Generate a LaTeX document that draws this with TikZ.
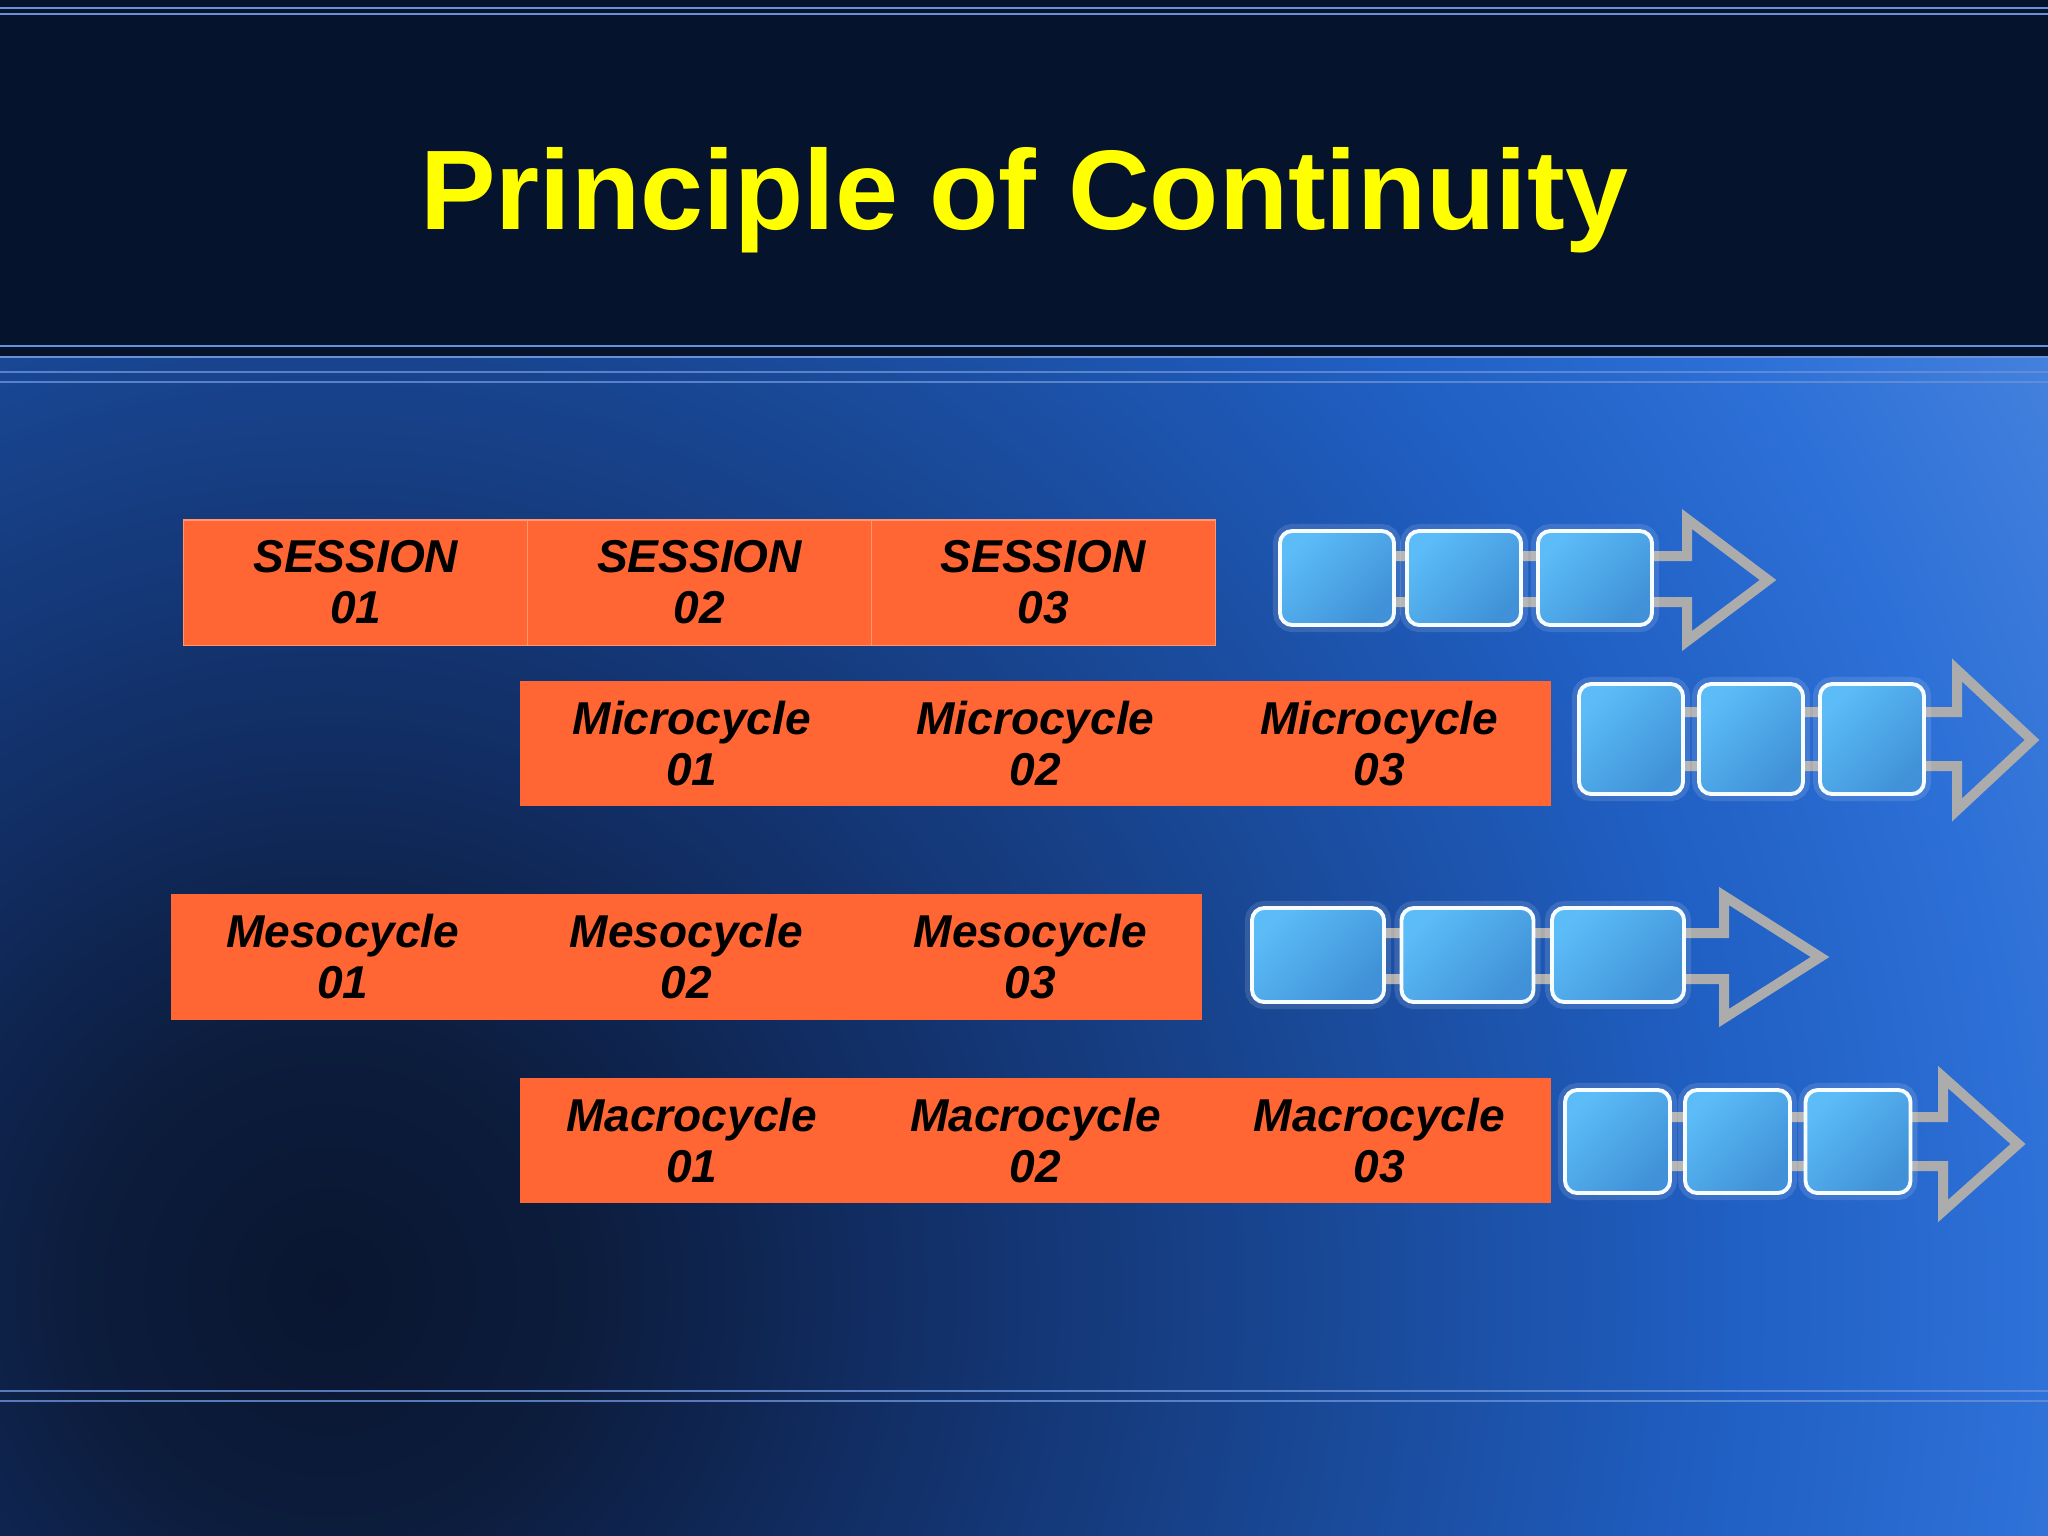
\documentclass[tikz,border=0pt]{standalone}
\usepackage{fontspec}
\setmainfont{Liberation Sans}
\definecolor{hdr}{RGB}{6,19,45}
\definecolor{bgA}{RGB}{10,22,48}
\definecolor{bgB}{RGB}{12,28,60}
\definecolor{bgC}{RGB}{18,48,105}
\definecolor{bgD}{RGB}{25,72,150}
\definecolor{bgE}{RGB}{32,95,195}
\definecolor{bgF}{RGB}{45,112,215}
\definecolor{bgG}{RGB}{72,132,222}
\definecolor{lineblue}{RGB}{105,145,215}
\definecolor{orng}{RGB}{255,102,51}
\definecolor{orngL}{RGB}{255,150,110}
\definecolor{sqTop}{RGB}{92,188,248}
\definecolor{sqBot}{RGB}{64,145,215}
\definecolor{arrgray}{RGB}{172,172,172}
\definecolor{ttl}{RGB}{255,255,0}
\pgfdeclareradialshading{bodyshade}{\pgfpoint{0bp}{0bp}}{color(0bp)=(bgA); color(3.1bp)=(bgB); color(7.5bp)=(bgC); color(12.5bp)=(bgD); color(17.5bp)=(bgE); color(21.25bp)=(bgF); color(25bp)=(bgG); color(50bp)=(bgG)}
\newcommand\cellfont{\fontsize{13.1pt}{14.5pt}\selectfont\bfseries\itshape}
\newcommand\ttlfont{\fontsize{32.2pt}{38pt}\selectfont\bfseries}
\begin{document}
\begin{tikzpicture}[x=0.01cm,y=-0.01cm,
  hline/.style={draw=lineblue, line width=0.7pt},
  cell/.style={rectangle, fill=orng, minimum width=3.437cm, minimum height=1.25cm, inner sep=0pt, align=center, font=\cellfont, text=black},
  celledge/.style={cell, draw=orngL, line width=0.3pt},
  sq/.style={rectangle, rounded corners=3.5pt, draw=white!95!sqTop, line width=1.1pt, top color=sqTop, bottom color=sqBot, shading angle=45, inner sep=0pt,
     preaction={draw=white, draw opacity=0.12, line width=4pt}},
  arr/.style={draw=arrgray, line width=2.85pt, line join=miter}
]
\useasboundingbox (0,0) rectangle (2048,1535);
% background
\fill[hdr] (0,0) rectangle (2048,357);
\begin{scope}
  \clip (0,357) rectangle (2048,1535);
  \shade[shading=bodyshade] (-1670,-710) rectangle (2330,3290);
\end{scope}
\foreach \yy in {8,14,346,357} \draw[hline] (0,\yy) -- (2048,\yy);
\foreach \yy in {372,382,1391,1401} \draw[hline, draw opacity=0.8] (0,\yy) -- (2048,\yy);
% title
\node[anchor=base, text=ttl, font=\ttlfont, inner sep=0pt] (title) at (1024,229) {Principle of Continuity};
% row 1
\node[celledge] (r1a) at (355.8,582.5) {SESSION\\01};
\node[celledge] (r1b) at (699.5,582.5) {SESSION\\02};
\node[celledge] (r1c) at (1043.2,582.5) {SESSION\\03};
% row 2
\node[cell] (r2a) at (691.8,743.5) {Microcycle\\01};
\node[cell] (r2b) at (1035.5,743.5) {Microcycle\\02};
\node[cell] (r2c) at (1379.2,743.5) {Microcycle\\03};
% row 3
\node[cell] (r3a) at (342.8,957) {Mesocycle\\01};
\node[cell] (r3b) at (686.5,957) {Mesocycle\\02};
\node[cell] (r3c) at (1030.2,957) {Mesocycle\\03};
% row 4
\node[cell] (r4a) at (691.8,1140.5) {Macrocycle\\01};
\node[cell] (r4b) at (1035.5,1140.5) {Macrocycle\\02};
\node[cell] (r4c) at (1379.2,1140.5) {Macrocycle\\03};
% chain 1
\draw[arr] (1337,556) -- (1687,556) -- (1687,519) -- (1768,580) -- (1687,641) -- (1687,602) -- (1337,602);
\node[sq, minimum width=1.14cm, minimum height=0.94cm] (c1a) at (1337,578) {};
\node[sq, minimum width=1.14cm, minimum height=0.94cm] (c1b) at (1464,578) {};
\node[sq, minimum width=1.14cm, minimum height=0.94cm] (c1c) at (1595,578) {};
% chain 2
\draw[arr] (1631,712) -- (1957,712) -- (1957,670) -- (2032,740) -- (1957,810) -- (1957,766) -- (1631,766);
\node[sq, minimum width=1.04cm, minimum height=1.1cm] (c2a) at (1631,739) {};
\node[sq, minimum width=1.04cm, minimum height=1.1cm] (c2b) at (1751,739) {};
\node[sq, minimum width=1.04cm, minimum height=1.1cm] (c2c) at (1872,739) {};
% chain 3
\draw[arr] (1318,933) -- (1724,933) -- (1724,896) -- (1820,957) -- (1724,1018) -- (1724,979) -- (1318,979);
\node[sq, minimum width=1.32cm, minimum height=0.94cm] (c3a) at (1318,955) {};
\node[sq, minimum width=1.32cm, minimum height=0.94cm] (c3b) at (1467.5,955) {};
\node[sq, minimum width=1.32cm, minimum height=0.94cm] (c3c) at (1618,955) {};
% chain 4
\draw[arr] (1617,1117) -- (1943,1117) -- (1943,1077) -- (2018,1144) -- (1943,1211) -- (1943,1166) -- (1617,1166);
\node[sq, minimum width=1.05cm, minimum height=1.03cm] (c4a) at (1617.5,1141.5) {};
\node[sq, minimum width=1.05cm, minimum height=1.03cm] (c4b) at (1737.5,1141.5) {};
\node[sq, minimum width=1.05cm, minimum height=1.03cm] (c4c) at (1858,1141.5) {};
\end{tikzpicture}
\end{document}
